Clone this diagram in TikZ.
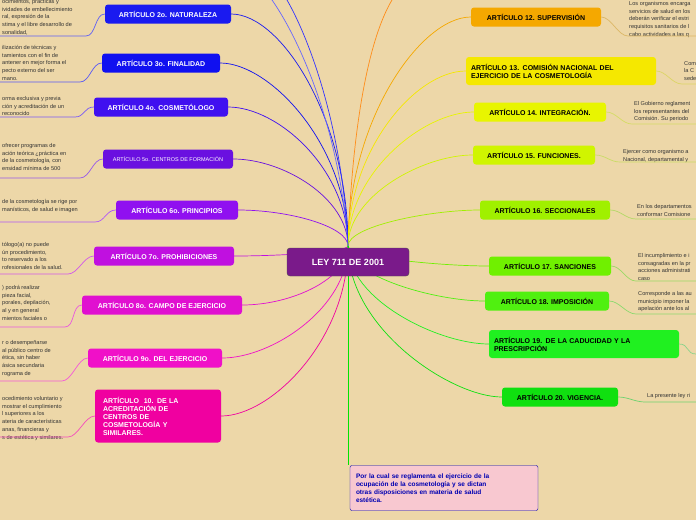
\documentclass[tikz,border=0pt]{standalone}
\usepackage{fontspec}
\setmainfont{Liberation Sans}
\usetikzlibrary{calc}
\begin{document}
\begin{tikzpicture}[x=1pt,y=-1pt,
 art/.style={rounded corners=3pt,text=white,font=\bfseries\fontsize{7}{8}\selectfont,inner sep=4pt,minimum height=19pt},
 artr/.style={art,text=black},
 desc/.style={anchor=north west,align=left,font=\fontsize{5.6}{7.8}\selectfont,inner sep=0pt,text=black!80},
 br/.style={line width=0.7pt}]
\fill[fill={rgb,255:red,237;green,215;blue,168}] (0,0) rectangle (696,520);
\useasboundingbox (0,0) rectangle (696,520);
\coordinate (hub) at (348,246);
\definecolor{c2}{HTML}{1A1AF0}\definecolor{c3}{HTML}{1010F0}\definecolor{c4}{HTML}{4010F0}
\definecolor{c5}{HTML}{6A10E0}\definecolor{c6}{HTML}{9010F0}\definecolor{c7}{HTML}{C010E0}
\definecolor{c8}{HTML}{E010D0}\definecolor{c9}{HTML}{F010C8}\definecolor{c10}{HTML}{F000A0}
\definecolor{r12}{HTML}{F5A800}\definecolor{r13}{HTML}{F5E800}\definecolor{r14}{HTML}{E8F500}
\definecolor{r15}{HTML}{D0F500}\definecolor{r16}{HTML}{A0F000}\definecolor{r17}{HTML}{70F000}
\definecolor{r18}{HTML}{50F010}\definecolor{r19}{HTML}{20F020}\definecolor{r20}{HTML}{10E010}
% left branches
\node[art,fill=c2,minimum width=126pt] (a2) at (168,14) {ARTÍCULO 2o. NATURALEZA};
\node[art,fill=c3,minimum width=118pt] (a3) at (161,63) {ARTÍCULO 3o. FINALIDAD};
\node[art,fill=c4,minimum width=134pt] (a4) at (161,107) {ARTÍCULO 4o. COSMETÓLOGO};
\node[art,fill=c5,minimum width=130pt,font=\fontsize{5.5}{7}\selectfont] (a5) at (168,159) {ARTÍCULO 5o. CENTROS DE FORMACIÓN};
\node[art,fill=c6,minimum width=122pt] (a6) at (177,210) {ARTÍCULO 6o. PRINCIPIOS};
\node[art,fill=c7,minimum width=140pt] (a7) at (164,256) {ARTÍCULO 7o. PROHIBICIONES};
\node[art,fill=c8,minimum width=160pt] (a8) at (162,305) {ARTÍCULO 8o. CAMPO DE EJERCICIO};
\node[art,fill=c9,minimum width=134pt] (a9) at (155,358) {ARTÍCULO 9o. DEL EJERCICIO};
\node[art,fill=c10,minimum width=126pt,minimum height=53pt,align=left,text width=110pt] (a10) at (158,416) {ARTÍCULO \ 10. DE LA\\ACREDITACIÓN DE\\CENTROS DE\\COSMETOLOGÍA Y\\SIMILARES.};
\foreach \n/\c in {a2/c2,a3/c3,a4/c4,a5/c5,a6/c6,a7/c7,a8/c8,a9/c9,a10/c10}
  \draw[br,\c] (hub) .. controls ($(hub)!0.55!(hub|-\n.east)$) and ($(\n.east)+(50,0)$) .. (\n.east);
% left descriptions
\node[desc] (d2) at (2,-1) {ocimientos, prácticas y\\ividades de embellecimiento\\ral, expresión de la\\stima y el libre desarrollo de\\sonalidad,};
\node[desc] (d3) at (2,45) {ilización de técnicas y\\tamientos con el fin de\\antener en mejor forma el\\pecto externo del ser\\mano.};
\node[desc] (d4) at (2,96) {orma exclusiva y previa\\ción y acreditación de un\\ reconocido};
\node[desc] (d5) at (2,143) {ofrecer programas de\\ación teórica ¿práctica en\\ de la cosmetología, con\\ensidad mínima de 500};
\node[desc] (d6) at (2,199) {de la cosmetología se rige por\\manísticos, de salud e imagen};
\node[desc] (d7) at (2,242) {tólogo(a) no puede\\ún procedimiento,\\to reservado a los\\rofesionales de la salud.};
\node[desc] (d8) at (2,285) {) podrá realizar\\pieza facial,\\porales, depilación,\\al y en general\\mientos faciales o};
\node[desc] (d9) at (2,340) {r o desempeñarse\\al público centro de\\ética, sin haber\\ásica secundaria\\rograma de};
\node[desc] (d10) at (2,396) {ocedimiento voluntario y\\mostrar el cumplimiento\\l superiores a los\\ateria de características\\anas, financieras y\\s de estética y similares.};
\foreach \n/\c/\y/\x in {a2/c2/36/86,a3/c3/82/80,a4/c4/117/75,a5/c5/178/80,a6/c6/222/95,a7/c7/274/68,a8/c8/327/65,a9/c9/381/62,a10/c10/437/68}{
  \coordinate (e\n) at (0,\y); \coordinate (f\n) at (\x,\y);
  \draw[br,\c!70] (e\n) -- (f\n) .. controls ($(f\n)+(10,0)$) and ($(\n.west)+(-10,0)$) .. (\n.west);}
% right branches
\node[artr,fill=r12,minimum width=130pt] (b12) at (536,17) {ARTÍCULO 12. SUPERVISIÓN};
\node[artr,fill=r13,minimum width=190pt,minimum height=28pt,align=left,text width=180pt] (b13) at (561,71) {ARTÍCULO 13. COMISIÓN NACIONAL DEL\\EJERCICIO DE LA COSMETOLOGÍA};
\node[artr,fill=r14,minimum width=132pt] (b14) at (540,112) {ARTÍCULO 14. INTEGRACIÓN.};
\node[artr,fill=r15,minimum width=122pt] (b15) at (534,155) {ARTÍCULO 15. FUNCIONES.};
\node[artr,fill=r16,minimum width=130pt] (b16) at (545,210) {ARTÍCULO 16. SECCIONALES};
\node[artr,fill=r17,minimum width=122pt] (b17) at (550,266) {ARTÍCULO 17. SANCIONES};
\node[artr,fill=r18,minimum width=124pt] (b18) at (547,301) {ARTÍCULO 18. IMPOSICIÓN};
\node[artr,fill=r19,minimum width=190pt,minimum height=28pt,align=left,text width=180pt] (b19) at (584,344) {ARTÍCULO 19. DE LA CADUCIDAD Y LA\\PRESCRIPCIÓN};
\node[artr,fill=r20,minimum width=116pt] (b20) at (560,397) {ARTÍCULO 20. VIGENCIA.};
\coordinate (topr) at (392,0);
\coordinate (topl1) at (272,0);
\coordinate (topl2) at (287,0);
\draw[br,orange!90] (hub) .. controls (352,130) and (368,40) .. (topr);
\foreach \n/\c in {b12/r12,b13/r13,b14/r14,b15/r15,b16/r16,b17/r17,b18/r18,b19/r19,b20/r20}
  \draw[br,\c] (hub) .. controls ($(hub)!0.55!(hub|-\n.west)$) and ($(\n.west)+(-50,0)$) .. (\n.west);
\draw[br,blue!60] (hub) .. controls (340,130) and (300,40) .. (topl1);
\draw[br,blue!80] (hub) .. controls (343,130) and (310,40) .. (topl2);
% right descriptions
\node[desc] (g12) at (629,1) {Los organismos encarga\\servicios de salud en los\\deberán verificar el estri\\requisitos sanitarios de l\\cabo actividades a las q};
\node[desc] (g13) at (684,61) {Com\\la C\\sede};
\node[desc] (g14) at (634,101) {El Gobierno reglament\\los representantes del\\Comisión. Su periodo};
\node[desc] (g15) at (623,149) {Ejercer como organismo a\\Nacional, departamental y};
\node[desc] (g16) at (637,204) {En los departamentos\\conformar Comisione};
\node[desc] (g17) at (638,253) {El incumplimiento e i\\consagradas en la pr\\acciones administrati\\caso};
\node[desc] (g18) at (638,291) {Corresponde a las au\\municipio imponer la\\apelación ante los al};
\node[desc] (g20) at (647,393) {La presente ley ri};
\foreach \n/\c/\y/\x in {b12/r12/36/628,b13/r13/84/682,b14/r14/124/632,b15/r15/162/620,b16/r16/219/636,b17/r17/281/636,b18/r18/314/636,b20/r20/402/645}{
  \coordinate (h\n) at (696,\y); \coordinate (k\n) at (\x,\y);
  \draw[br,\c!80!black!60] (\n.east) .. controls ($(\n.east)+(10,0)$) and ($(k\n)+(-10,0)$) .. (k\n) -- (h\n);}
\coordinate (h19) at (696,354);
\draw[br,r19!70!black!50] (b19.east) .. controls ($(b19.east)+(10,0)$) and (686,354) .. (h19);
% center
\node[draw=blue!70!black,fill={rgb,255:red,248;green,200;blue,208},text=blue!70!black,font=\bfseries\fontsize{6.5}{8}\selectfont,align=left,text width=176pt,minimum height=45pt,rounded corners=2pt,inner sep=6pt] (foot) at (444,488) {Por la cual se reglamenta el ejercicio de la\\ocupación de la cosmetología y se dictan\\otras disposiciones en materia de salud\\estética.};
\draw[br,green!90!black] (hub) -- (foot.north west-|hub);
\node[draw=black!70,fill={rgb,255:red,122;green,26;blue,138},text=white,font=\bfseries\fontsize{9}{10}\selectfont,minimum width=122pt,minimum height=28pt,rounded corners=3pt] (c) at (348,262) {LEY 711 DE 2001};
\end{tikzpicture}
\end{document}
